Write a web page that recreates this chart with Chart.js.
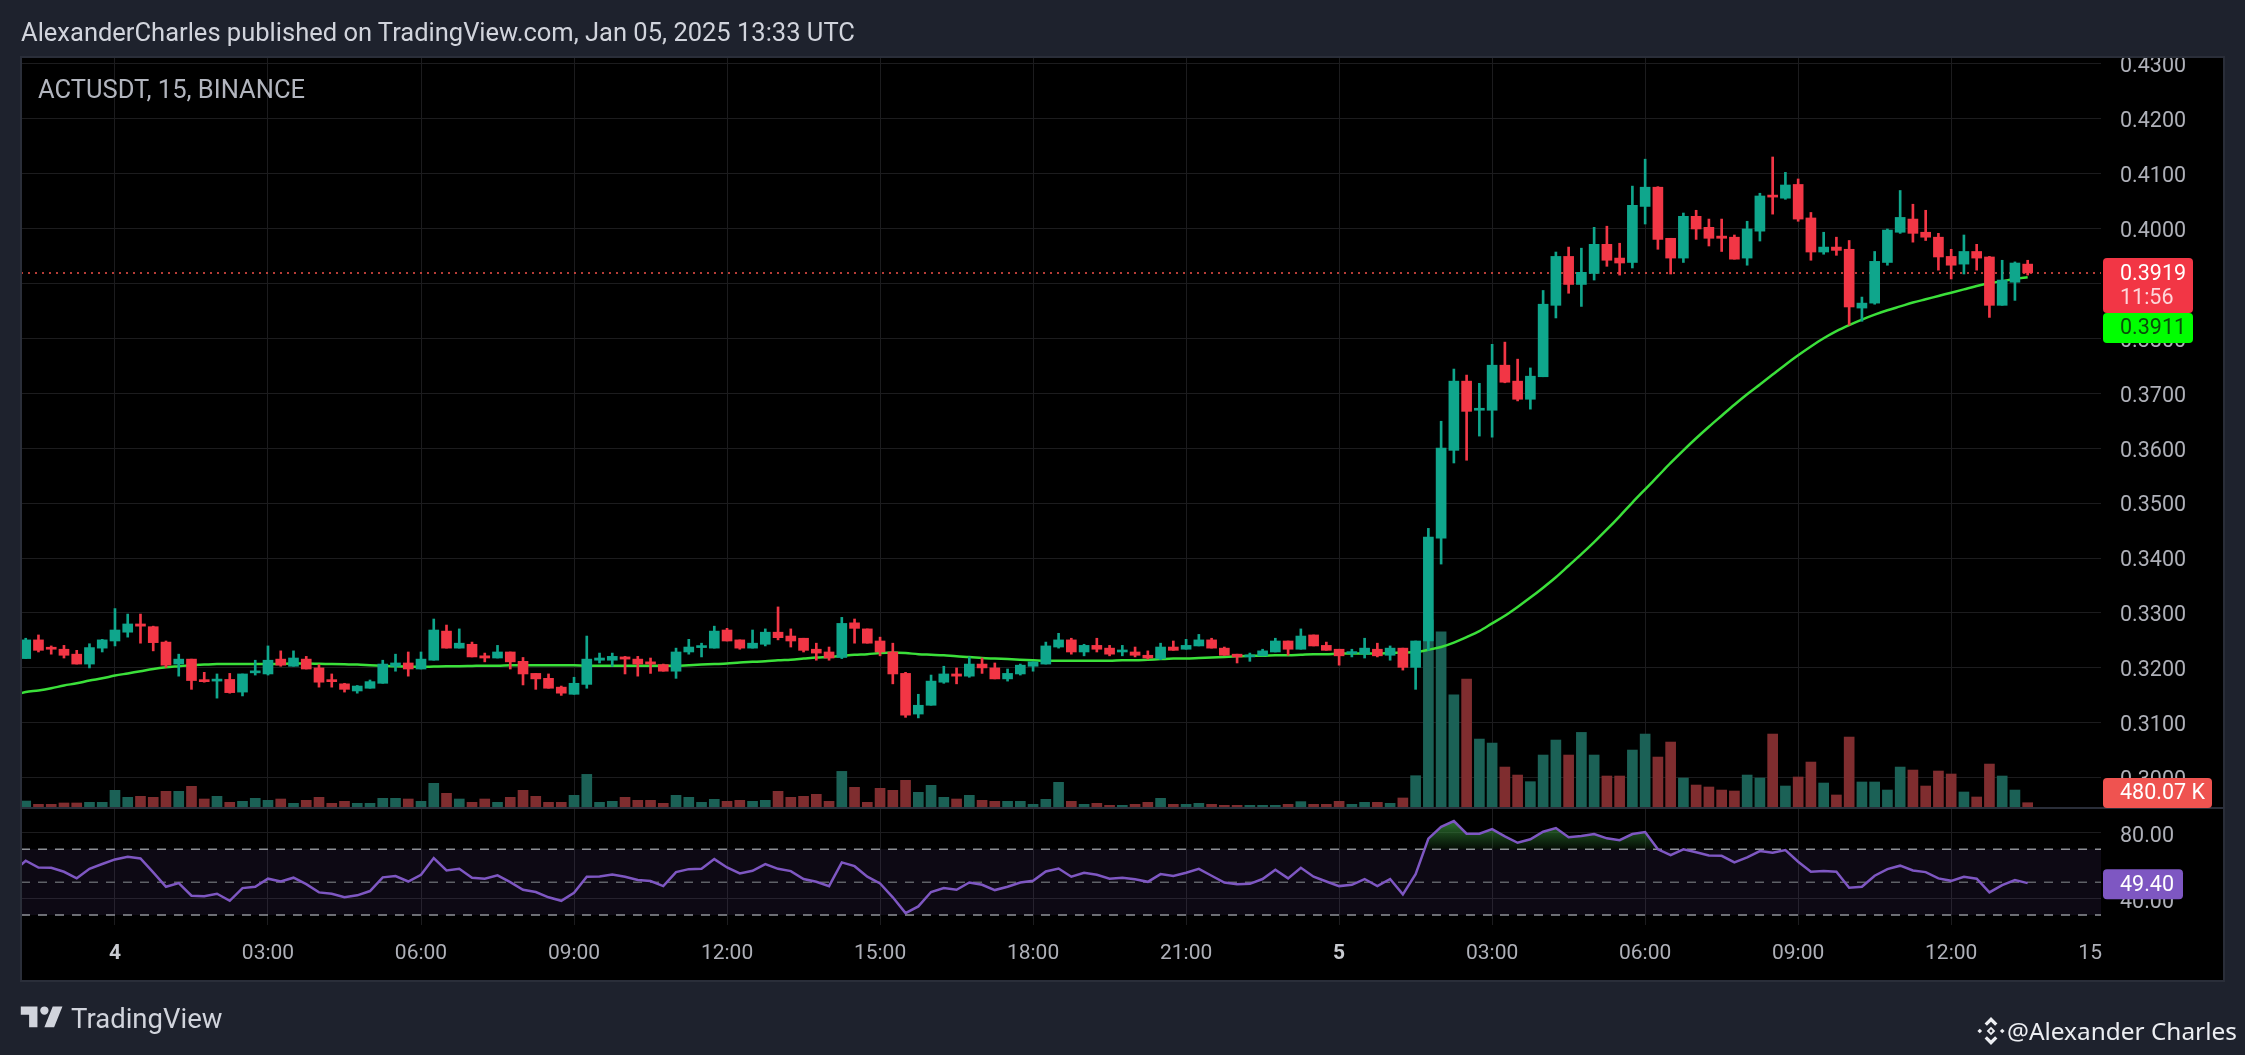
<!DOCTYPE html>
<html>
<head>
<meta charset="utf-8">
<title>ACTUSDT, 15, BINANCE</title>
<script src="https://cdn.jsdelivr.net/npm/chart.js@4"></script>
<style>
	html, body { margin: 0; padding: 0; background: #1e222d; width: 2245px; height: 1055px; overflow: hidden; }
	canvas { position: absolute; left: 0; top: 0; }
	.txt { position: absolute; white-space: nowrap; font-family: Roboto, sans-serif; z-index: 2; }
	#published { left: 21px; top: 17px; font-size: 25.5px; line-height: 30px; color: #d1d4dc; }
	#symbol { left: 38px; top: 74px; font-size: 25.5px; line-height: 30px; color: #b2b5be; }
	#brand { left: 71px; top: 1002px; font-size: 27.5px; line-height: 34px; color: #d1d4dc; }
	#author { left: 2007px; top: 1012px; font-family: "Noto Sans", sans-serif; font-size: 24.4px; line-height: 38px; color: #eceef2; }
	#logo { position: absolute; left: 18px; top: 998px; width: 50px; height: 39px; z-index: 2; }
	#mark { position: absolute; left: 1976px; top: 1016px; width: 30px; height: 30px; z-index: 2; }
</style>
</head>
<body>
<div class="txt" id="published">AlexanderCharles published on TradingView.com, Jan 05, 2025 13:33 UTC</div>
<div class="txt" id="symbol">ACTUSDT, 15, BINANCE</div>
<svg id="logo" viewBox="0 0 36 28"><path fill="#d1d4dc" d="M14 6H2v6h6v9h6V6Zm12 15h-7l6-15h7l-6 15Zm-7-9a3 3 0 1 0 0-6 3 3 0 0 0 0 6Z"/></svg>
<div class="txt" id="brand">TradingView</div>
<svg id="mark" viewBox="0 0 28 28"><g fill="#eceef2">
	<path d="M14 1l6 6-2.2 2.2L14 5.4l-3.8 3.8L8 7z"/>
	<path d="M14 27l6-6-2.2-2.2L14 22.6l-3.8-3.8L8 21z"/>
	<path d="M14 10l4 4-4 4-4-4zM14 12.4L12.4 14l1.6 1.6 1.6-1.6z" fill-rule="evenodd"/>
	<path d="M3.5 11.8L5.7 14l-2.2 2.2L1.3 14zM24.5 11.8l2.2 2.2-2.2 2.2-2.2-2.2z"/>
</g></svg>
<div class="txt" id="author">@Alexander Charles</div>
<canvas id="chart" width="2245" height="1055"></canvas>

<script>
// candles, one per 15 minutes
var opens = [
	0.3217,0.3251,0.3237,0.3234,0.3225,0.3207,0.3236,0.3249,0.3265,0.3280,
	0.3275,0.3247,0.3207,0.3216,0.3177,0.3176,0.3179,0.3156,0.3191,0.3189,
	0.3216,0.3203,0.3216,0.3200,0.3178,0.3171,0.3158,0.3163,0.3172,0.3203,
	0.3209,0.3198,0.3214,0.3267,0.3236,0.3243,0.3222,0.3218,0.3229,0.3212,
	0.3190,0.3181,0.3165,0.3152,0.3170,0.3214,0.3214,0.3220,0.3216,0.3211,
	0.3206,0.3194,0.3229,0.3237,0.3236,0.3269,0.3251,0.3236,0.3243,0.3265,
	0.3258,0.3254,0.3234,0.3229,0.3219,0.3282,0.3271,0.3249,0.3229,0.3190,
	0.3116,0.3132,0.3174,0.3189,0.3185,0.3207,0.3200,0.3180,0.3189,0.3203,
	0.3207,0.3238,0.3251,0.3229,0.3241,0.3236,0.3229,0.3229,0.3223,0.3217,
	0.3238,0.3234,0.3240,0.3251,0.3236,0.3225,0.3220,0.3222,0.3229,0.3249,
	0.3234,0.3260,0.3241,0.3234,0.3226,0.3225,0.3234,0.3223,0.3236,0.3201,
	0.3249,0.3436,0.3596,0.3722,0.3669,0.3669,0.3751,0.3722,0.3689,0.3730,
	0.3860,0.3949,0.3898,0.3918,0.3971,0.3946,0.3938,0.4040,0.4075,0.3982,
	0.3946,0.4022,0.4002,0.3986,0.3984,0.3946,0.3995,0.4060,0.4055,0.4080,
	0.4019,0.3957,0.3966,0.3962,0.3855,0.3864,0.3938,0.3993,0.4017,0.3993,
	0.3984,0.3949,0.3935,0.3958,0.3948,0.3860,0.3902,0.3935
];
var highs = [
	0.3254,0.3260,0.3240,0.3241,0.3232,0.3244,0.3252,0.3308,0.3298,0.3298,
	0.3276,0.3249,0.3225,0.3216,0.3192,0.3189,0.3190,0.3189,0.3214,0.3240,
	0.3231,0.3231,0.3221,0.3206,0.3189,0.3172,0.3168,0.3178,0.3214,0.3225,
	0.3229,0.3229,0.3289,0.3278,0.3271,0.3247,0.3227,0.3241,0.3229,0.3219,
	0.3190,0.3189,0.3167,0.3183,0.3258,0.3227,0.3227,0.3221,0.3221,0.3218,
	0.3207,0.3236,0.3252,0.3245,0.3276,0.3272,0.3251,0.3269,0.3271,0.3311,
	0.3271,0.3254,0.3245,0.3238,0.3292,0.3289,0.3271,0.3256,0.3245,0.3192,
	0.3152,0.3187,0.3203,0.3200,0.3220,0.3218,0.3209,0.3198,0.3207,0.3211,
	0.3247,0.3263,0.3254,0.3243,0.3254,0.3241,0.3241,0.3238,0.3231,0.3245,
	0.3249,0.3252,0.3261,0.3254,0.3238,0.3225,0.3227,0.3234,0.3254,0.3249,
	0.3271,0.3260,0.3247,0.3234,0.3234,0.3254,0.3245,0.3240,0.3236,0.3249,
	0.3454,0.3649,0.3744,0.3733,0.3718,0.3789,0.3793,0.3762,0.3746,0.3887,
	0.3957,0.3966,0.3964,0.4002,0.4004,0.3973,0.4077,0.4126,0.4076,0.3982,
	0.4028,0.4033,0.4017,0.4017,0.3988,0.4013,0.4064,0.4130,0.4102,0.4090,
	0.4029,0.3993,0.3984,0.3978,0.3875,0.3958,0.3999,0.4069,0.4044,0.4033,
	0.3991,0.3962,0.3988,0.3971,0.3949,0.3942,0.3939,0.3942
];
var lows = [
	0.3217,0.3229,0.3225,0.3218,0.3207,0.3200,0.3229,0.3240,0.3256,0.3245,
	0.3231,0.3201,0.3185,0.3161,0.3174,0.3145,0.3154,0.3149,0.3187,0.3187,
	0.3203,0.3203,0.3198,0.3165,0.3165,0.3156,0.3154,0.3163,0.3172,0.3194,
	0.3185,0.3198,0.3214,0.3236,0.3236,0.3220,0.3211,0.3218,0.3198,0.3169,
	0.3161,0.3163,0.3150,0.3152,0.3163,0.3209,0.3203,0.3189,0.3185,0.3190,
	0.3194,0.3181,0.3225,0.3220,0.3236,0.3249,0.3234,0.3236,0.3240,0.3251,
	0.3238,0.3229,0.3214,0.3214,0.3217,0.3245,0.3245,0.3222,0.3171,0.3110,
	0.3109,0.3132,0.3172,0.3171,0.3183,0.3190,0.3180,0.3176,0.3187,0.3194,
	0.3207,0.3236,0.3225,0.3222,0.3229,0.3222,0.3222,0.3220,0.3216,0.3215,
	0.3232,0.3234,0.3240,0.3236,0.3223,0.3209,0.3212,0.3222,0.3229,0.3223,
	0.3234,0.3240,0.3232,0.3205,0.3220,0.3218,0.3220,0.3214,0.3196,0.3161,
	0.3232,0.3389,0.3573,0.3578,0.3622,0.3620,0.3719,0.3686,0.3671,0.3730,
	0.3837,0.3882,0.3858,0.3906,0.3931,0.3915,0.3928,0.4008,0.3962,0.3917,
	0.3938,0.3980,0.3968,0.3958,0.3944,0.3933,0.3977,0.4026,0.4053,0.4013,
	0.3942,0.3953,0.3951,0.3824,0.3831,0.3862,0.3933,0.3991,0.3975,0.3978,
	0.3924,0.3908,0.3917,0.3924,0.3838,0.3860,0.3869,0.3915
];
var closes = [
	0.3251,0.3232,0.3234,0.3223,0.3207,0.3237,0.3251,0.3269,0.3280,0.3276,
	0.3246,0.3205,0.3216,0.3177,0.3175,0.3179,0.3155,0.3189,0.3194,0.3214,
	0.3205,0.3218,0.3198,0.3174,0.3175,0.3161,0.3167,0.3175,0.3207,0.3209,
	0.3198,0.3216,0.3269,0.3236,0.3245,0.3220,0.3218,0.3229,0.3211,0.3189,
	0.3180,0.3163,0.3154,0.3172,0.3216,0.3218,0.3221,0.3216,0.3207,0.3207,
	0.3194,0.3229,0.3238,0.3240,0.3267,0.3249,0.3236,0.3245,0.3265,0.3255,
	0.3249,0.3232,0.3227,0.3218,0.3281,0.3272,0.3245,0.3229,0.3189,0.3114,
	0.3132,0.3176,0.3189,0.3185,0.3207,0.3200,0.3180,0.3190,0.3205,0.3211,
	0.3240,0.3251,0.3229,0.3241,0.3234,0.3225,0.3232,0.3223,0.3218,0.3238,
	0.3232,0.3241,0.3251,0.3236,0.3223,0.3220,0.3223,0.3231,0.3249,0.3234,
	0.3258,0.3240,0.3232,0.3222,0.3229,0.3236,0.3222,0.3236,0.3201,0.3249,
	0.3438,0.3600,0.3722,0.3667,0.3672,0.3751,0.3720,0.3689,0.3731,0.3862,
	0.3949,0.3898,0.3920,0.3971,0.3942,0.3937,0.4042,0.4075,0.3980,0.3946,
	0.4022,0.3999,0.3982,0.3982,0.3944,0.3999,0.4059,0.4057,0.4079,0.4017,
	0.3957,0.3966,0.3960,0.3857,0.3864,0.3940,0.3997,0.4020,0.3991,0.3984,
	0.3948,0.3933,0.3958,0.3946,0.3860,0.3906,0.3937,0.3919
];
// the green moving average, the first value belongs to the bar cut off at the left edge
var ema = [
	0.3150,
	0.3156,0.3159,0.3163,0.3168,0.3172,0.3177,0.3181,0.3186,0.3190,0.3194,
	0.3198,0.3201,0.3203,0.3205,0.3206,0.3207,0.3207,0.3207,0.3207,0.3207,
	0.32075,0.3208,0.3208,0.32075,0.3207,0.32065,0.3206,0.3205,0.3204,0.3203,
	0.32025,0.3202,0.32025,0.3203,0.3203,0.32035,0.3204,0.3204,0.3205,0.3205,
	0.3205,0.3205,0.3205,0.3205,0.3204,0.3204,0.3204,0.3204,0.3204,0.3204,
	0.3204,0.3204,0.3205,0.3206,0.3207,0.3208,0.3210,0.3211,0.3212,0.3214,
	0.3215,0.3217,0.3219,0.3220,0.3222,0.3224,0.3225,0.3227,0.3228,0.3227,
	0.3225,0.3224,0.3223,0.3221,0.3220,0.3218,0.3217,0.3216,0.3215,0.3214,
	0.3213,0.3213,0.3213,0.3213,0.3213,0.3213,0.3214,0.3214,0.3215,0.3216,
	0.3217,0.3217,0.3218,0.3219,0.3220,0.3221,0.3222,0.3222,0.3223,0.3223,
	0.3224,0.3225,0.3225,0.3226,0.3226,0.3226,0.3226,0.3227,0.3228,0.3229,
	0.3233,0.3238,0.3246,0.3256,0.3267,0.3281,0.3295,0.3311,0.3328,0.3346,
	0.3365,0.3386,0.3407,0.3429,0.3452,0.3476,0.3501,0.3525,0.3549,0.3573,
	0.3596,0.3618,0.3639,0.3659,0.3679,0.3698,0.3716,0.3734,0.3752,0.3769,
	0.3785,0.3800,0.3813,0.3824,0.3834,0.3843,0.3851,0.3858,0.3865,0.3871,
	0.3877,0.3883,0.3889,0.3895,0.3900,0.3904,0.3908,0.3911
];
// volume in thousands
var volumes = [
	670,300,300,450,450,520,520,1865,1080,1195,
	1080,1755,1755,2315,895,1195,520,635,970,745,
	895,410,745,1080,410,635,410,410,970,970,
	895,635,2650,1530,895,520,895,520,1080,1865,
	1195,520,520,1305,3655,520,635,1080,745,745,
	410,1305,1080,520,860,635,745,635,745,1755,
	1080,1195,1420,635,3990,2200,520,2090,1865,2985,
	1640,2425,1080,895,1305,745,635,635,635,300,
	860,2760,635,300,410,187,187,300,520,970,
	300,300,410,300,187,187,187,187,187,300,
	600,300,300,635,300,520,520,410,1010,3505,
	20960,19620,12570,14325,7610,7160,4475,3580,2835,5820,
	7500,5820,8355,5820,3470,3470,6380,8170,5595,7275,
	3245,2460,2240,1900,1790,3580,3245,8170,2350,3360,
	5035,2685,1345,7835,2800,2800,1900,4475,4140,2350,
	4030,3695,1680,1120,4810,3470,1900,480.07
];
// same as ema, one extra value in front
var rsi = [
	56.3,
	63.0,58.9,58.7,56.3,52.3,58.1,61.0,63.8,65.4,64.4,
	55.9,47.2,49.4,41.8,41.5,43.0,38.7,46.4,47.2,52.1,
	50.4,52.7,48.8,43.8,43.0,40.8,42.0,44.6,52.9,53.7,
	50.4,54.5,64.6,57.1,58.1,52.7,52.1,54.1,50.0,45.4,
	44.0,40.8,38.7,43.6,53.3,53.5,54.7,53.3,51.3,50.7,
	47.6,56.1,57.9,58.1,64.0,58.9,55.3,56.9,61.0,58.1,
	56.7,51.9,50.2,47.6,62.0,59.7,53.3,49.2,40.8,31.2,
	35.3,44.0,46.4,45.4,49.8,48.4,45.2,47.2,49.8,50.8,
	56.5,58.3,53.3,55.7,54.5,52.1,52.7,51.7,50.2,54.9,
	53.7,55.7,58.1,53.9,49.8,48.8,49.0,51.9,57.5,52.3,
	58.7,53.3,50.4,47.6,48.4,51.9,47.6,51.9,42.6,54.9,
	76.4,83.6,87.1,79.4,79.4,82.2,77.8,73.9,76.0,80.6,
	82.8,77.2,78.0,79.2,76.6,75.5,79.2,80.4,69.9,66.4,
	69.9,68.1,66.2,66.0,62.0,65.0,68.9,67.9,69.5,62.4,
	56.3,56.7,56.3,46.6,47.2,53.9,57.9,60.0,57.1,56.1,
	52.3,50.8,53.3,52.1,43.8,48.2,51.3,49.4
];

var priceTicks = [0.43,0.42,0.41,0.40,0.39,0.38,0.37,0.36,0.35,0.34,0.33,0.32,0.31,0.30];
var rsiTicks = [80,40];
var rsiLevels = [70,50,30];
var timeTicks = [7,19,31,43,55,67,79,91,103,115,127,139,151,161.9];
var timeLabels = ['4','03:00','06:00','09:00','12:00','15:00','18:00','21:00','5','03:00','06:00','09:00','12:00','15'];
var lastPrice = 0.3919;
var countdown = '11:56';
var lastEma = 0.3911;
var lastVolume = '480.07 K';
var lastRsi = 49.40;

var UP = '#0fa68c', DOWN = '#f23645';
var VOL_UP = '#1b6156', VOL_DOWN = '#7f2d2f';
var GRID = '#1c1c1e';
var LABEL = '#aeb0b8';
var XMIN = -0.37, XMAX = 162.75;

function series(values, first) {
	return values.map(function(v, i) { return { x: i + first, y: v }; });
}
function range(a, b) {
	return a.map(function(v, i) { return { x: i, y: [v, b[i]] }; });
}
function flat(v) {
	return [{ x: XMIN, y: v }, { x: XMAX, y: v }];
}
var candleColors = closes.map(function(c, i) { return c >= opens[i] ? UP : DOWN; });
var volumeColors = closes.map(function(c, i) { return c >= opens[i] ? VOL_UP : VOL_DOWN; });

// black panel, frame and pane divider under everything, value tags on top
var panes = {
	id: 'panes',
	beforeDraw: function(chart) {
		var c = chart.ctx, a = chart.chartArea, x = chart.scales.x;
		var right = chart.scales.y.right, bottom = x.bottom;
		c.save();
		c.fillStyle = '#000';
		c.fillRect(a.left, a.top, right - a.left, bottom - a.top);
		c.restore();
	},
	afterDraw: function(chart) {
		var c = chart.ctx, a = chart.chartArea, x = chart.scales.x;
		var right = chart.scales.y.right, bottom = x.bottom;
		c.save();
		c.strokeStyle = '#2a2e39';
		c.lineWidth = 2;
		c.strokeRect(a.left, a.top, right - a.left, bottom - a.top);
		c.beginPath();
		c.moveTo(a.left, chart.scales.y.bottom);
		c.lineTo(right, chart.scales.y.bottom);
		c.stroke();

		c.font = '21.5px Roboto';
		c.textBaseline = 'middle';
		var tagX = a.right + 2, textX = a.right + 19;
		function tag(top, w, h, fill) {
			c.fillStyle = fill;
			c.beginPath();
			c.roundRect(tagX, top, w, h, 4);
			c.fill();
		}
		var py = chart.scales.y.getPixelForValue(lastPrice);
		tag(py - 15, 90, 55, DOWN);
		tag(py + 40, 90, 30, '#00ff00');
		c.fillStyle = '#fff';
		c.fillText(lastPrice.toFixed(4), textX, py + 2);
		c.fillStyle = 'rgba(255,255,255,0.8)';
		c.fillText(countdown, textX, py + 26);
		c.fillStyle = '#0a4d0a';
		c.fillText(lastEma.toFixed(4), textX, py + 56);

		var vb = chart.scales.y.bottom;
		tag(vb - 30, 109, 30, '#ef5350');
		c.fillStyle = '#fff';
		c.fillText(lastVolume, textX, vb - 14);

		var ry = chart.scales.rsi.getPixelForValue(lastRsi);
		tag(ry - 14, 80, 30, '#7e57c2');
		c.fillStyle = '#fff';
		c.fillText(lastRsi.toFixed(2), textX, ry + 2);
		c.restore();
	}
};

var chart = new Chart(document.getElementById('chart').getContext('2d'), {
	type: 'bar',
	data: {
		datasets: [
			{ label: 'Vol', data: series(volumes, 0), yAxisID: 'vol', backgroundColor: volumeColors, barThickness: 10, order: 9 },
			{ type: 'line', label: 'Last', data: flat(lastPrice), yAxisID: 'y', borderColor: '#f2514a', borderWidth: 1.5, borderDash: [2, 5], pointRadius: 0, order: 8 },
			{ type: 'line', label: 'EMA', data: series(ema, -1), yAxisID: 'y', borderColor: '#3be03a', borderWidth: 2.5, cubicInterpolationMode: 'monotone', pointRadius: 0, order: 7 },
			{ label: 'Wick', data: range(lows, highs), yAxisID: 'y', backgroundColor: candleColors, barThickness: 2, order: 6 },
			{ label: 'Body', data: range(opens, closes), yAxisID: 'y', backgroundColor: candleColors, barThickness: 10, minBarLength: 2, order: 5 },
			{ type: 'line', label: 'RSI upper', data: flat(rsiLevels[0]), yAxisID: 'rsi', borderColor: '#8f9198', borderWidth: 1.5, borderDash: [9, 8], pointRadius: 0, fill: '+1', backgroundColor: 'rgba(126,87,194,0.1)', order: 4 },
			{ type: 'line', label: 'RSI lower', data: flat(rsiLevels[2]), yAxisID: 'rsi', borderColor: '#8f9198', borderWidth: 1.5, borderDash: [9, 8], pointRadius: 0, order: 3 },
			{ type: 'line', label: 'RSI middle', data: flat(rsiLevels[1]), yAxisID: 'rsi', borderColor: '#5f6167', borderWidth: 1.5, borderDash: [9, 8], pointRadius: 0, order: 2 },
			{ type: 'line', label: 'RSI', data: series(rsi, -1), yAxisID: 'rsi', borderColor: '#7e57c2', borderWidth: 2.5, pointRadius: 0, order: 1,
				fill: { target: { value: rsiLevels[0] }, above: 'rgba(46,125,50,0.6)', below: 'rgba(0,0,0,0)' } }
		]
	},
	options: {
		responsive: false,
		animation: false,
		devicePixelRatio: 1,
		layout: { padding: { left: 21, top: 57, right: 21, bottom: 74 } },
		plugins: { legend: { display: false }, tooltip: { enabled: false } },
		datasets: { bar: { grouped: false } },
		scales: {
			x: {
				type: 'linear',
				offset: false,
				min: XMIN,
				max: XMAX,
				afterBuildTicks: function(s) { s.ticks = timeTicks.map(function(v) { return { value: v }; }); },
				afterFit: function(s) { s.height = 56; },
				grid: {
					offset: false,
					drawTicks: false,
					color: function(ctx) { return ctx.index === timeTicks.length - 1 ? 'rgba(0,0,0,0)' : GRID; }
				},
				border: { display: false },
				ticks: {
					autoSkip: false,
					maxRotation: 0,
					padding: 16,
					color: function(ctx) { return (ctx.index === 0 || ctx.index === 8) ? '#c8cad0' : LABEL; },
					font: function(ctx) {
						var bold = ctx.index === 0 || ctx.index === 8;
						return { family: 'Roboto', size: 21, weight: bold ? 'bold' : 'normal' };
					},
					callback: function(v, i) { return timeLabels[i]; }
				}
			},
			y: {
				type: 'linear',
				position: 'right',
				stack: 'panes',
				stackWeight: 751,
				weight: 1,
				min: 0.2945,
				max: 0.4312,
				afterBuildTicks: function(s) { s.ticks = priceTicks.map(function(v) { return { value: v }; }); },
				afterFit: function(s) { s.width = 123; },
				grid: { color: GRID, drawTicks: false },
				border: { display: false },
				ticks: {
					autoSkip: false,
					padding: 19,
					labelOffset: 3,
					color: LABEL,
					font: { family: 'Roboto', size: 21.5 },
					callback: function(v) { return v.toFixed(4); }
				}
			},
			rsi: {
				type: 'linear',
				position: 'right',
				stack: 'panes',
				stackWeight: 117,
				weight: 2,
				min: 24,
				max: 95,
				afterBuildTicks: function(s) { s.ticks = rsiTicks.map(function(v) { return { value: v }; }); },
				afterFit: function(s) { s.width = 123; },
				grid: { color: GRID, drawTicks: false },
				border: { display: false },
				ticks: {
					autoSkip: false,
					padding: 19,
					labelOffset: 4,
					color: LABEL,
					font: { family: 'Roboto', size: 21.5 },
					callback: function(v) { return v.toFixed(2); }
				}
			},
			// hidden, 1px is about 112K and the zero sits on the pane divider
			vol: {
				type: 'linear',
				display: false,
				position: 'right',
				min: -13216,
				max: 84000
			}
		}
	},
	plugins: [panes]
});

// overbought fill fades out towards the 70 line
var s = chart.scales.rsi;
var grad = chart.ctx.createLinearGradient(0, s.getPixelForValue(90), 0, s.getPixelForValue(rsiLevels[0]));
grad.addColorStop(0, 'rgba(56,142,60,0.95)');
grad.addColorStop(1, 'rgba(46,125,50,0.1)');
chart.data.datasets[8].fill.above = grad;
chart.update('none');
</script>
</body>
</html>
